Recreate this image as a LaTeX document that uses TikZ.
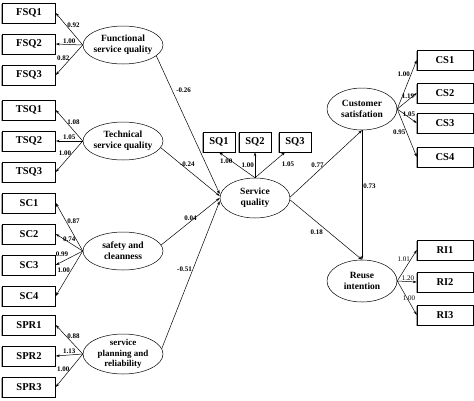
\documentclass[tikz,border=0pt]{standalone}
\usepackage{fontspec}
\setmainfont{Liberation Serif}
\usepackage{tikz}
\usetikzlibrary{shapes.geometric, shadows, arrows.meta}

\begin{document}
\begin{tikzpicture}[x=1pt, y=-1pt, node distance=31pt, line width=0.5pt,
      >={Stealth[length=4pt, width=2.6pt]},
      lbox/.style={draw, rectangle, fill=white, minimum width=53pt, minimum height=20pt,
        font=\bfseries\fontsize{10.5}{12}\selectfont,
        drop shadow={shadow xshift=-1.3pt, shadow yshift=-1.3pt, fill=gray!70, opacity=1}},
      rbox/.style={lbox, minimum width=56pt,
        drop shadow={shadow xshift=1.3pt, shadow yshift=-1.3pt, fill=gray!70, opacity=1}},
      sbox/.style={rbox, minimum width=32pt},
      latent/.style={draw, ellipse, inner sep=-2pt, minimum width=80pt, minimum height=38pt,
        align=center, font=\bfseries\fontsize{9.5}{11}\selectfont},
      lbl/.style={inner sep=1pt, font=\bfseries\fontsize{7}{7}\selectfont},
      lbln/.style={lbl, font=\fontsize{7}{7}\selectfont}]
      \useasboundingbox (0,0) rectangle (474,400);

      % indicators on the left
      \node (fsq1) [lbox] at (29,13) {FSQ1};
      \node (fsq2) [lbox, below of=fsq1] {FSQ2};
      \node (fsq3) [lbox, below of=fsq2] {FSQ3};
      \node (tsq1) [lbox] at (29,110) {TSQ1};
      \node (tsq2) [lbox, below of=tsq1] {TSQ2};
      \node (tsq3) [lbox, below of=tsq2] {TSQ3};
      \node (sc1) [lbox] at (29,203) {SC1};
      \node (sc2) [lbox, below of=sc1] {SC2};
      \node (sc3) [lbox, below of=sc2] {SC3};
      \node (sc4) [lbox, below of=sc3] {SC4};
      \node (spr1) [lbox] at (29,325) {SPR1};
      \node (spr2) [lbox, below of=spr1] {SPR2};
      \node (spr3) [lbox, below of=spr2] {SPR3};

      % latent variables
      \node (fsq) [latent] at (123,45) {Functional\\service quality};
      \node (tsq) [latent] at (123,141) {Technical\\service quality};
      \node (sc) [latent] at (123,251) {safety and\\cleanness};
      \node (spr) [latent, minimum height=40pt, font=\bfseries\fontsize{9}{10.5}\selectfont] at (123,354) {service\\planning and\\reliability};
      \node (sq) [latent, minimum width=70pt, minimum height=40pt] at (255,198) {Service\\quality};
      \node (cs) [latent, minimum width=70pt, minimum height=42pt] at (362,109) {Customer\\satisfation};
      \node (ri) [latent, minimum width=70pt, minimum height=42pt] at (362,281) {Reuse\\intention};

      % indicators of service quality and on the right
      \node (sq1) [sbox] at (219,142) {SQ1};
      \node (sq2) [sbox] at (255,142) {SQ2};
      \node (sq3) [sbox] at (295,142) {SQ3};
      \node (cs1) [rbox] at (445,60) {CS1};
      \node (cs2) [rbox] at (445,93) {CS2};
      \node (cs3) [rbox] at (445,123) {CS3};
      \node (cs4) [rbox] at (445,157) {CS4};
      \node (ri1) [rbox] at (445,250) {RI1};
      \node (ri2) [rbox] at (445,282) {RI2};
      \node (ri3) [rbox] at (445,315) {RI3};

      % loadings
      \draw[->] (fsq.west) -- node[lbl, pos=0.62, right] {0.92} (fsq1.east);
      \draw[->] (fsq.west) -- node[lbl, pos=0.5, above] {1.00} (fsq2.east);
      \draw[->] (fsq.west) -- node[lbl, pos=0.45, left] {0.82} (fsq3.east);
      \draw[->] (tsq.west) -- node[lbl, pos=0.62, right] {1.08} (tsq1.east);
      \draw[->] (tsq.west) -- node[lbl, pos=0.5, above] {1.05} (tsq2.east);
      \draw[->] (tsq.west) -- node[lbl, pos=0.38, left] {1.00} (tsq3.east);
      \draw[->] (sc.west) -- node[lbl, pos=0.62, right] {0.87} (sc1.east);
      \draw[->] (sc.west) -- node[lbl, pos=0.5, above] {0.74} (sc2.east);
      \draw[->] (sc.west) -- node[lbl, pos=0.5, above left] {0.99} (sc3.east);
      \draw[->] (sc.west) -- node[lbl, pos=0.43, left] {1.00} (sc4.east);
      \draw[->] (spr.west) -- node[lbl, pos=0.62, right] {0.88} (spr1.east);
      \draw[->] (spr.west) -- node[lbl, pos=0.5, above] {1.13} (spr2.east);
      \draw[->] (spr.west) -- node[lbl, pos=0.45, left] {1.00} (spr3.east);
      \draw[->] (sq.north) -- node[lbl, pos=0.8, below] {1.00} (sq1.south);
      \draw[->] (sq.north) -- node[lbl, pos=0.5, left] {1.00} (sq2.south);
      \draw[->] (sq.north) -- node[lbl, pos=0.55, right=9pt] {1.05} ([xshift=-10pt]sq3.south);
      \draw[->] (cs.east) -- node[lbl, pos=0.71, left] {1.00} (cs1.west);
      \draw[->] (cs.east) -- node[lbl, pos=0.55, above] {1.19} (cs2.west);
      \draw[->] (cs.east) -- node[lbl, pos=0.6, above] {1.05} (cs3.west);
      \draw[->] (cs.east) -- node[lbl, pos=0.48, left] {0.95} (cs4.west);
      \draw[->] (ri.east) -- node[lbln, pos=0.71, left] {1.01} (ri1.west);
      \draw[->] (ri.east) -- node[lbln, pos=0.55, above] {1.20} (ri2.west);
      \draw[->] (ri.east) -- node[lbln, pos=0.6, above] {1.00} (ri3.west);

      % paths
      \draw[->] (fsq.-18) -- node[lbl, pos=0.25, right=3pt] {-0.26} ([yshift=4pt]sq.west);
      \draw[->] (tsq.-10) -- node[lbl, pos=0.45, above=2pt] {-0.24} ([yshift=2pt]sq.west);
      \draw[->] (sc.9) -- node[lbl, pos=0.5, above] {0.04} (sq.west);
      \draw[->] (spr.8) -- node[lbl, pos=0.54, left] {-0.51} ([yshift=-3pt]sq.west);
      \draw[->] ([yshift=1pt]sq.east) -- node[lbl, pos=0.38, above=3pt] {0.77} (cs.south);
      \draw[->] ([yshift=-2pt]sq.east) -- node[lbl, pos=0.37, below=6pt] {0.18} (ri.north);
      \draw[->] (cs.south) -- node[lbl, pos=0.43, right] {0.73} (ri.north);
    \end{tikzpicture}
\end{document}
